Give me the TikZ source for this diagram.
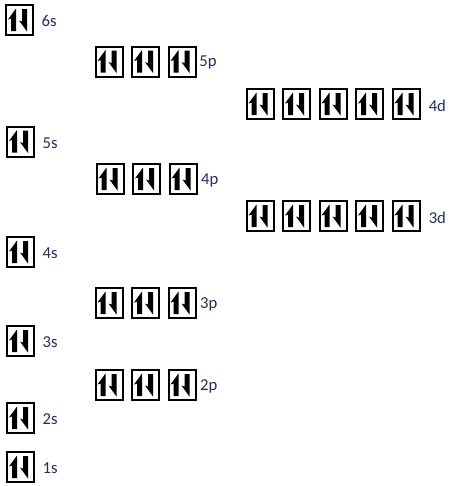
\documentclass[tikz,border=0pt]{standalone}
\usepackage{fontspec}
\setmainfont{Carlito}
\usetikzlibrary{positioning}
\definecolor{bezblau}{RGB}{31,45,100}
\begin{document}
\begin{tikzpicture}[x=0.75pt,y=-0.75pt,
    kasten/.style={draw,line width=1.5pt,minimum width=20.25pt,minimum height=22.5pt,inner sep=0pt,
        path picture={
            % Pfeil hoch und Pfeil runter
            \fill[shift={(path picture bounding box.center)}]
                (-3.5,11) -- (-3.5,-11.5) -- (-11.5,-0.5) -- (-8.5,-1.5) -- (-8.5,11) -- cycle
                (2.5,-11) -- (7.5,-11) -- (7.5,11.5) -- (-0.5,0.5) -- (2.5,1.5) -- cycle;
        }},
    bez/.style={text=bezblau,font=\fontsize{12.5}{14}\selectfont,inner sep=0pt}]

    % Rand
    \useasboundingbox (0,0) rectangle (450,486);

    % Orbitale: Name / x / y / Anzahl / Abstand
    \foreach \name/\x/\y/\n/\gap in {
        6s/19.5/20/1/5.5, 5s/20.5/141.5/1/5.5, 4s/20.5/252/1/5.5,
        3s/20.5/341/1/5.5, 2s/20.5/418/1/5.5, 1s/20.5/467/1/5.5,
        5p/109/61.5/3/2, 4p/110/179/3/2.5, 3p/109/303/3/2.5, 2p/109/385/3/2.5,
        4d/260/104/5/6, 3d/260/216/5/6} {
        \foreach \i in {1,...,\n} {
            \node[kasten] (\name-\i) at (\x+36.5*\i-36.5,\y) {};
        }
        \node[bez,right=\gap pt of \name-\n,yshift=-1pt] (l\name) {\name};
    }
\end{tikzpicture}
\end{document}
